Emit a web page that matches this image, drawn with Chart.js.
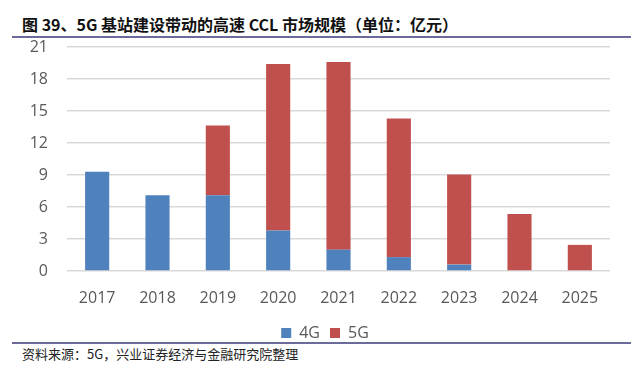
<!DOCTYPE html>
<html>
<head>
<meta charset="utf-8">
<script src="https://cdn.jsdelivr.net/npm/chart.js@4"></script>
<style>
  html, body { margin: 0; padding: 0; background: #fff; }
  body { width: 640px; height: 373px; position: relative; overflow: hidden; }
  #title { position: absolute; left: 22px; top: 13px; font-family: "Noto Sans CJK SC"; font-weight: bold; font-size: 16px; line-height: 22px; color: #111; white-space: nowrap; }
  .rule { position: absolute; left: 12px; width: 619px; height: 2px; background: #6b6b9b; }
  #source { position: absolute; left: 22px; top: 345px; font-family: "Noto Sans CJK SC"; font-size: 13px; line-height: 18px; color: #222; white-space: nowrap; }
  #wrap { position: absolute; left: 0; top: 0; width: 640px; height: 373px; }
</style>
</head>
<body>
<div id="title">图 39、5G 基站建设带动的高速 CCL 市场规模（单位：亿元）</div>
<div class="rule" style="top:36px"></div>
<div class="rule" style="top:342px"></div>
<div id="source">资料来源：5G，兴业证券经济与金融研究院整理</div>
<div id="wrap"><canvas id="c" width="640" height="373"></canvas></div>
<script>
const categories = ["2017", "2018", "2019", "2020", "2021", "2022", "2023", "2024", "2025"];
const values4G = [9.3, 7.1, 7.1, 3.8, 2.0, 1.3, 0.6, 0, 0];
const values5G = [0, 0, 6.55, 15.6, 17.6, 13.0, 8.45, 5.35, 2.45];
const yTicks = [0, 3, 6, 9, 12, 15, 18, 21];

new Chart(document.getElementById('c'), {
  type: 'bar',
  data: {
    labels: categories,
    datasets: [
      { label: '4G', data: values4G, backgroundColor: '#4f81bd', categoryPercentage: 1, barPercentage: 0.4 },
      { label: '5G', data: values5G, backgroundColor: '#c0504d', categoryPercentage: 1, barPercentage: 0.4 }
    ]
  },
  options: {
    responsive: false,
    animation: false,
    layout: { padding: { left: 10, right: 0, top: 47, bottom: 22 } },
    plugins: {
      tooltip: { enabled: false },
      legend: {
        position: 'bottom',
        labels: { boxWidth: 10, boxHeight: 10, padding: 10, color: '#595959', font: { family: 'Open Sans', size: 16 } }
      }
    },
    scales: {
      x: {
        stacked: true,
        grid: { display: false },
        border: { display: false },
        ticks: { color: '#595959', padding: 10, font: { family: 'Open Sans', size: 16 } },
        afterFit: s => { s.height = 44; }
      },
      y: {
        stacked: true,
        min: 0, max: 21,
        afterBuildTicks: s => { s.ticks = yTicks.map(v => ({ value: v })); },
        grid: { color: '#d9d9d9', drawTicks: false, lineWidth: 1.5 },
        border: { display: false },
        ticks: { color: '#595959', padding: 19, font: { family: 'Open Sans', size: 16 } },
        afterFit: s => { s.width = 57; }
      },
      yRight: {
        type: 'linear',
        position: 'right',
        grid: { display: false, drawTicks: false },
        border: { display: false },
        ticks: { display: false },
        afterFit: s => { s.width = 30; }
      }
    }
  }
});
</script>
</body>
</html>
